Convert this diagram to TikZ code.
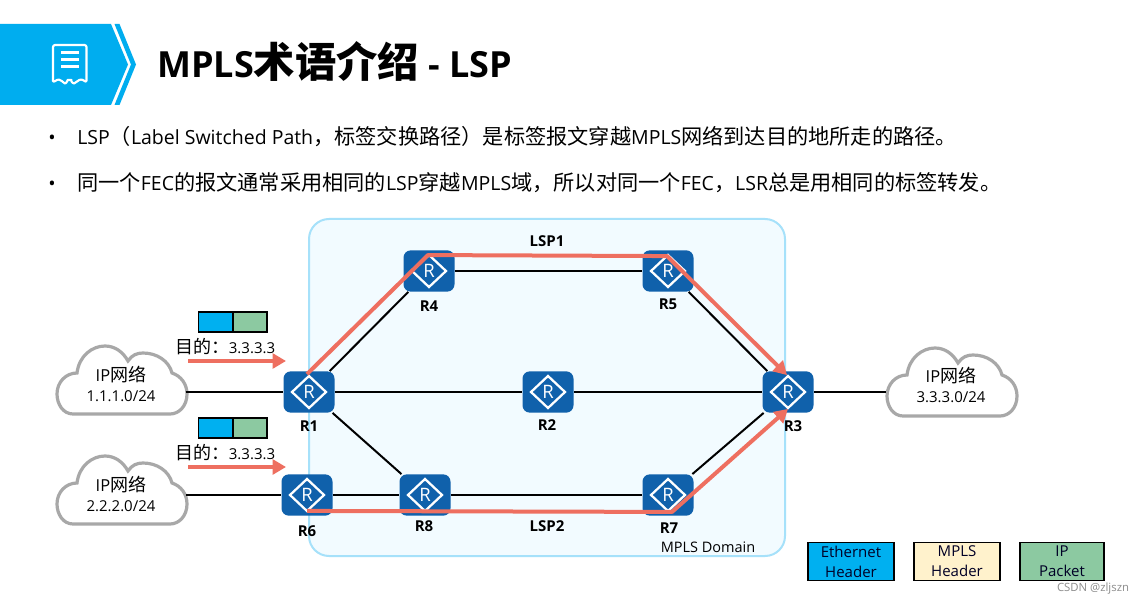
\documentclass[tikz,border=0pt]{standalone}
\usepackage{fontspec}
\setmainfont{Open Sans}
\newfontfamily\zhfont{Noto Sans CJK SC}
\newcommand{\px}[1]{\fontsize{\fpeval{#1*0.75}}{\fpeval{#1*0.9}}\selectfont}
\newcommand{\zh}[1]{{\zhfont\px{21.2}#1}}
\newcommand{\zhc}[1]{{\zhfont\px{18}#1}}
\usetikzlibrary{arrows.meta,calc}
\definecolor{hdrblue}{HTML}{00ADEF}
\definecolor{pktblue}{HTML}{00B0F0}
\definecolor{pktgreen}{HTML}{8CC9A1}
\definecolor{pktcream}{HTML}{FFF2CC}
\definecolor{rtblue}{HTML}{1061AB}
\definecolor{lspred}{HTML}{EE6F60}
\definecolor{domfill}{HTML}{F2FBFF}
\definecolor{domline}{HTML}{A6E1FA}
\definecolor{cloudgray}{HTML}{A8A8A8}
\tikzset{
  router/.style={rectangle,rounded corners=5.5pt,fill=rtblue,text=white,minimum width=38.25pt,minimum height=31pt,inner sep=0pt,
    font=\px{18.5},
    path picture={\draw[white,line width=1.7pt,sharp corners] ([xshift=-17*0.75pt]path picture bounding box.center) -- ([yshift=16*0.75pt]path picture bounding box.center) -- ([xshift=17*0.75pt]path picture bounding box.center) -- ([yshift=-16*0.75pt]path picture bounding box.center) -- cycle;}},
  rlabel/.style={font=\bfseries\px{15},inner sep=0pt},
  netcloud/.style={align=center,inner sep=0pt,minimum width=97.5pt,font=\px{16.5}},
  cloudline/.style={draw=cloudgray,line width=2.4pt,fill=white},
  link/.style={line width=1.5pt,black},
  lsp/.style={line width=3pt,lspred,line join=round},
  lsparrow/.style={lsp,-{Triangle[length=10pt,width=11pt]},shorten >=0pt},
  pkt/.style={draw=black,line width=0.8pt,inner sep=0pt,minimum width=25.5pt,minimum height=15pt},
  legend/.style={draw=black,line width=0.8pt,inner sep=0pt,minimum height=29pt,align=center,font=\px{15},text=black!85!blue},
  dest/.style={font=\px{15},inner sep=0pt},
  bullet/.style={anchor=west,inner sep=0pt,font=\px{19.5}}
}
\newcommand{\cloudpath}[2]{%
  \path[cloudline,shift={(#1,#2)}] (16,68) .. controls (6,68) and (0,58) .. (0,48) .. controls (0,36) and (9,27) .. (20,27) .. controls (22,10) and (35,0) .. (48,0) .. controls (58,0) and (66,6) .. (71,15) .. controls (75,9) and (80,7) .. (86,7) .. controls (100,7) and (112,15) .. (115,27) .. controls (124,30) and (130,38) .. (130,48) .. controls (130,60) and (122,68) .. (113,68) -- cycle;}
\begin{document}
\begin{tikzpicture}[x=0.75pt,y=-0.75pt]
\useasboundingbox[fill=white] (0,0) rectangle (1144,605);
% header
\fill[hdrblue] (0,24) -- (111,24) -- (128,64.5) -- (111,105) -- (0,105) -- cycle;
\fill[hdrblue] (114.5,24) -- (119.5,24) -- (136,64.5) -- (119.5,105) -- (114.5,105) -- (131,64.5) -- cycle;
\draw[white,line width=1.6pt,line join=round,rounded corners=1.5pt] (53,82.5) -- (53,45) -- (86.5,45) -- (86.5,82.5) .. controls (82,79) and (80,79) .. (76,82.5) .. controls (73,84) and (70,80) .. (69.5,80) .. controls (68,80) and (66,84) .. (63,82.5) .. controls (60,79) and (58,79) .. cycle;
\draw[white,line width=1.6pt] (61,52.5) -- (79,52.5) (61,59.5) -- (79,59.5) (61,66.5) -- (79,66.5);
\node (title) [anchor=west,inner sep=0pt,font=\bfseries\px{36}] at (157,61) {MPLS{\zhfont\bfseries\px{41.3}术语介绍} - LSP};
\node (b1) [bullet] at (48,140) {•};
\node (t1) [bullet] at (77,137) {LSP\zh{（}Label Switched Path\zh{，标签交换路径）是标签报文穿越}MPLS\zh{网络到达目的地所走的路径。}};
\node (b2) [bullet] at (48,186) {•};
\node (t2) [bullet] at (77,183) {\zh{同一个}FEC\zh{的报文通常采用相同的}LSP\zh{穿越}MPLS\zh{域，所以对同一个}FEC\zh{，}LSR\zh{总是用相同的标签转发。}};
% domain
\draw[fill=domfill,draw=domline,line width=1.5pt,rounded corners=15pt] (309,219) rectangle (785,556);
% clouds
\cloudpath{57}{346}
\cloudpath{57}{456}
\cloudpath{887}{348}
\node (c1) [netcloud] at (121,384) {IP\zhc{网络}\\[0pt]{\px{15}1.1.1.0/24}};
\node (c2) [netcloud] at (121,494) {IP\zhc{网络}\\[0pt]{\px{15}2.2.2.0/24}};
\node (c3) [netcloud] at (951,385) {IP\zhc{网络}\\[0pt]{\px{15}3.3.3.0/24}};
% routers
\node (R1) [router] at (309,392) {R};
\node (R2) [router] at (548,392) {R};
\node (R3) [router] at (788,392) {R};
\node (R4) [router] at (429,271) {R};
\node (R5) [router] at (668,271) {R};
\node (R6) [router] at (307,495) {R};
\node (R7) [router] at (668,495) {R};
\node (R8) [router] at (425,495) {R};
\foreach \n/\x/\y in {R1/309/426,R2/547/425,R3/793/426,R4/429/306,R5/668/304,R6/307/531,R7/669/528,R8/424/526}
  \node (l\n) [rlabel] at (\x,\y) {\n};
\node (lsp1) [rlabel] at (547,241) {LSP1};
\node (lsp2) [rlabel] at (547,526) {LSP2};
\node (dom) [inner sep=0pt,font=\px{14.5}] at (708,547) {MPLS Domain};
% links
\draw[link] (c1.east |- R1) -- (R1);
\draw[link] (c2.east |- R6) -- (R6);
\draw[link] (R3) -- (c3.west |- R3);
\draw[link] (R1) -- (R2);
\draw[link] (R2) -- (R3);
\draw[link] (R1) -- (R4);
\draw[link] (R4) -- (R5);
\draw[link] (R5) -- (R3);
\draw[link] (R1) -- (R8);
\draw[link] (R6) -- (R8);
\draw[link] (R8) -- (R7);
\draw[link] (R7) -- (R3);
% LSPs
\draw[lsparrow] ($(R1.north)+(-2,3)$) -- ($(R4.north)+(-1,5)$) -- ($(R5.north)+(-1,6)$) -- ($(R3.north)+(-1,4)$);
\draw[lsparrow] ($(R6.south)+(0,-5)$) -- ($(R7.south)+(4,-4)$) -- ($(R3.south)+(0,-4)$);
% packets
\node (p1a) [pkt,fill=pktblue] at (215.5,322) {};
\node (p1b) [pkt,fill=pktgreen] at (250,322) {};
\node (p2a) [pkt,fill=pktblue] at (215.5,428) {};
\node (p2b) [pkt,fill=pktgreen] at (250,428) {};
\node (d1) [dest] at (202,347) {\zhc{目的：}};
\node (a1) [dest] at (252,348) {3.3.3.3};
\node (d2) [dest] at (202,453) {\zhc{目的：}};
\node (a2) [dest] at (252,454) {3.3.3.3};
\coordinate (f1) at (188,361);
\coordinate (e1) at (286,361);
\coordinate (f2) at (188,467);
\coordinate (e2) at (286,467);
\draw[lsparrow] (f1) -- (e1);
\draw[lsparrow] (f2) -- (e2);
% legend
\node (lg1) [legend,fill=pktblue,minimum width=64.5pt] at (851,561.5) {Ethernet\\[1.5pt]Header};
\node (lg2) [legend,fill=pktcream,minimum width=64.5pt] at (957,561.5) {MPLS\\[1.5pt]Header};
\node (lg3) [legend,fill=pktgreen,minimum width=63pt] at (1062,561.5) {IP\\[1.5pt]Packet};
\node (wm) [inner sep=0pt,text=black!45,font=\fontsize{8.5}{10}\selectfont] at (1093,589) {CSDN @zljszn};
\end{tikzpicture}
\end{document}
